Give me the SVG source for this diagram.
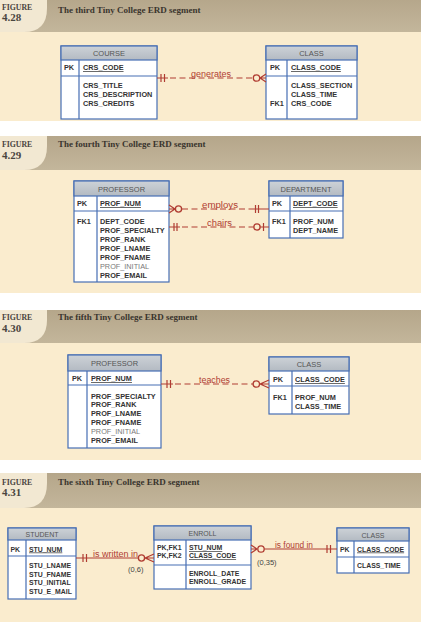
<svg xmlns="http://www.w3.org/2000/svg" width="421" height="622" viewBox="0 0 421 622">
<defs>
<linearGradient id="band" x1="0" y1="0" x2="0" y2="1">
<stop offset="0" stop-color="#b5a68a"/>
<stop offset="1" stop-color="#c3b69b"/>
</linearGradient>
<linearGradient id="eh" x1="0" y1="0" x2="0" y2="1">
<stop offset="0" stop-color="#cdd2d7"/>
<stop offset="1" stop-color="#b3bac2"/>
</linearGradient>
</defs>
<style>
.body{fill:#faecce}
.pan{fill:#f2e8d2}
.fig{font-family:"Liberation Serif",serif;font-size:7.8px;fill:#4a4540;font-weight:bold}
.num{font-family:"Liberation Serif",serif;font-size:11px;fill:#4a4540;font-weight:bold}
.title{font-family:"Liberation Serif",serif;font-size:9px;font-weight:bold;fill:#3a352e}
.box{fill:#ffffff;stroke:#466eb4;stroke-width:1.2}
.hd{fill:url(#eh);stroke:#466eb4;stroke-width:1.2}
.sep{stroke:#466eb4;stroke-width:1.2;fill:none}
.et{font-family:"Liberation Sans",Arial,sans-serif;font-size:7.5px;fill:#555;text-anchor:middle}
.at{font-family:"Liberation Sans",Arial,sans-serif;font-size:7.3px;font-weight:bold;fill:#333}
.s4 .at{font-size:6.9px}
.s4 .et{font-size:7px}
.ul{text-decoration:underline}
.gr{font-weight:normal;fill:#7a7a7a}
.cn{stroke:#b03c32;stroke-width:1.2;fill:none}
.dash{stroke-dasharray:6 3.5}
.circ{stroke:#b03c32;stroke-width:1.3;fill:#faecce}
.lbl{font-family:"Liberation Sans",Arial,sans-serif;font-size:8.5px;fill:#b03c32}
.card{font-family:"Liberation Sans",Arial,sans-serif;font-size:7.5px;fill:#444}
</style>
<rect width="421" height="622" fill="#ffffff"/>

<!-- Section 1 -->
<rect class="body" x="0" y="32" width="421" height="89"/>
<rect x="0" y="-2" width="421" height="34" fill="url(#band)"/>
<path class="pan" d="M0,-2 H47 V8 Q47,32 24,32 H0 Z"/>
<text class="fig" x="2" y="10">FIGURE</text>
<text class="num" x="2" y="21">4.28</text>
<text class="title" x="58" y="13">The third Tiny College ERD segment</text>

<!-- Section 2 -->
<rect class="body" x="0" y="170" width="421" height="123"/>
<rect x="0" y="136" width="421" height="34" fill="url(#band)"/>
<path class="pan" d="M0,136 H47 V146 Q47,170 24,170 H0 Z"/>
<text class="fig" x="2" y="147">FIGURE</text>
<text class="num" x="2" y="158.5">4.29</text>
<text class="title" x="58" y="147">The fourth Tiny College ERD segment</text>

<!-- Section 3 -->
<rect class="body" x="0" y="343" width="421" height="117"/>
<rect x="0" y="310" width="421" height="33" fill="url(#band)"/>
<path class="pan" d="M0,310 H47 V320 Q47,343 24,343 H0 Z"/>
<text class="fig" x="2" y="320">FIGURE</text>
<text class="num" x="2" y="331.5">4.30</text>
<text class="title" x="58" y="320">The fifth Tiny College ERD segment</text>

<!-- Section 4 -->
<rect class="body" x="0" y="508" width="421" height="114"/>
<rect x="0" y="473" width="421" height="35" fill="url(#band)"/>
<path class="pan" d="M0,473 H47 V483 Q47,508 24,508 H0 Z"/>
<text class="fig" x="2" y="485">FIGURE</text>
<text class="num" x="2" y="496">4.31</text>
<text class="title" x="58" y="485">The sixth Tiny College ERD segment</text>

<!-- Nodes -->
<g id="course">
<rect class="box" x="61" y="46" width="96" height="73"/>
<rect class="hd" x="61" y="46" width="96" height="14"/>
<path class="sep" d="M61,76 H157 M79,60 V119"/>
<text class="et" x="109" y="55.5">COURSE</text>
<text class="at" x="64" y="70">PK</text>
<text class="at ul" x="83" y="70">CRS_CODE</text>
<text class="at" x="83" y="88">CRS_TITLE</text>
<text class="at" x="83" y="97">CRS_DESCRIPTION</text>
<text class="at" x="83" y="106">CRS_CREDITS</text>
</g>

<g id="class1">
<rect class="box" x="266" y="46" width="91" height="73"/>
<rect class="hd" x="266" y="46" width="91" height="14"/>
<path class="sep" d="M266,76 H357 M287,60 V119"/>
<text class="et" x="311.5" y="55.5">CLASS</text>
<text class="at" x="270" y="70">PK</text>
<text class="at ul" x="291" y="70">CLASS_CODE</text>
<text class="at" x="291" y="88">CLASS_SECTION</text>
<text class="at" x="291" y="97">CLASS_TIME</text>
<text class="at" x="270" y="106">FK1</text>
<text class="at" x="291" y="106">CRS_CODE</text>
</g>

<g id="professor2">
<rect class="box" x="74" y="181" width="95" height="101"/>
<rect class="hd" x="74" y="181" width="95" height="15"/>
<path class="sep" d="M74,211 H169 M97,196 V282"/>
<text class="et" x="121.5" y="191.5">PROFESSOR</text>
<text class="at" x="77" y="206">PK</text>
<text class="at ul" x="100" y="206">PROF_NUM</text>
<text class="at" x="77" y="223.5">FK1</text>
<text class="at" x="100" y="223.5">DEPT_CODE</text>
<text class="at" x="100" y="232.5">PROF_SPECIALTY</text>
<text class="at" x="100" y="241.5">PROF_RANK</text>
<text class="at" x="100" y="250.5">PROF_LNAME</text>
<text class="at" x="100" y="259.5">PROF_FNAME</text>
<text class="at gr" x="100" y="268.5">PROF_INITIAL</text>
<text class="at" x="100" y="277.5">PROF_EMAIL</text>
</g>

<g id="department">
<rect class="box" x="269" y="181" width="74" height="57"/>
<rect class="hd" x="269" y="181" width="74" height="15"/>
<path class="sep" d="M269,211 H343 M290,196 V238"/>
<text class="et" x="306" y="191.5">DEPARTMENT</text>
<text class="at" x="272" y="206">PK</text>
<text class="at ul" x="293" y="206">DEPT_CODE</text>
<text class="at" x="272" y="223.5">FK1</text>
<text class="at" x="293" y="223.5">PROF_NUM</text>
<text class="at" x="293" y="232.5">DEPT_NAME</text>
</g>

<g id="professor3">
<rect class="box" x="68" y="355" width="93" height="93"/>
<rect class="hd" x="68" y="355" width="93" height="16"/>
<path class="sep" d="M68,385 H161 M87,371 V448"/>
<text class="et" x="114.5" y="365.5">PROFESSOR</text>
<text class="at" x="72" y="381">PK</text>
<text class="at ul" x="91" y="381">PROF_NUM</text>
<text class="at" x="91" y="398.5">PROF_SPECIALTY</text>
<text class="at" x="91" y="407.4">PROF_RANK</text>
<text class="at" x="91" y="416.3">PROF_LNAME</text>
<text class="at" x="91" y="425.2">PROF_FNAME</text>
<text class="at gr" x="91" y="434.1">PROF_INITIAL</text>
<text class="at" x="91" y="443">PROF_EMAIL</text>
</g>

<g id="class3">
<rect class="box" x="269" y="357" width="80" height="57"/>
<rect class="hd" x="269" y="357" width="80" height="14"/>
<path class="sep" d="M269,386 H349 M292,371 V414"/>
<text class="et" x="309" y="367">CLASS</text>
<text class="at" x="273" y="382">PK</text>
<text class="at ul" x="295" y="382">CLASS_CODE</text>
<text class="at" x="273" y="399.5">FK1</text>
<text class="at" x="295" y="399.5">PROF_NUM</text>
<text class="at" x="295" y="408.5">CLASS_TIME</text>
</g>

<g class="s4">
<g id="student">
<rect class="box" x="8" y="528" width="68" height="71"/>
<rect class="hd" x="8" y="528" width="68" height="12"/>
<path class="sep" d="M8,556 H76 M26,540 V599"/>
<text class="et" x="42" y="537">STUDENT</text>
<text class="at" x="10.5" y="551.5">PK</text>
<text class="at ul" x="29" y="551.5">STU_NUM</text>
<text class="at" x="29" y="568">STU_LNAME</text>
<text class="at" x="29" y="576.5">STU_FNAME</text>
<text class="at" x="29" y="585">STU_INITIAL</text>
<text class="at" x="29" y="593.5">STU_E_MAIL</text>
</g>

<g id="enroll">
<rect class="box" x="154" y="526" width="97" height="63"/>
<rect class="hd" x="154" y="526" width="97" height="14"/>
<path class="sep" d="M154,565 H251 M186,540 V589"/>
<text class="et" x="202.5" y="536">ENROLL</text>
<text class="at" x="157" y="550">PK,FK1</text>
<text class="at ul" x="189" y="550">STU_NUM</text>
<text class="at" x="157" y="558">PK,FK2</text>
<text class="at ul" x="189" y="558">CLASS_CODE</text>
<text class="at" x="189" y="576">ENROLL_DATE</text>
<text class="at" x="189" y="584">ENROLL_GRADE</text>
</g>

<g id="class4">
<rect class="box" x="337" y="528" width="72" height="45"/>
<rect class="hd" x="337" y="528" width="72" height="13"/>
<path class="sep" d="M337,557 H409 M354,541 V573"/>
<text class="et" x="373" y="537.5">CLASS</text>
<text class="at" x="340" y="551.5">PK</text>
<text class="at ul" x="357" y="551.5">CLASS_CODE</text>
<text class="at" x="357" y="568">CLASS_TIME</text>
</g>
</g>

<!-- Connectors -->
<g id="connectors">
<!-- generates -->
<path class="cn" d="M157,78 H168 M161,74 V82 M164.5,74 V82"/>
<path class="cn dash" d="M170,78 H253"/>
<circle class="circ" cx="256.5" cy="78" r="3.2"/>
<path class="cn" d="M259.7,78 H266 M260,78 L266,74 M260,78 L266,82"/>
<text class="lbl" x="191" y="77" textLength="40" lengthAdjust="spacingAndGlyphs">generates</text>

<!-- employs -->
<path class="cn" d="M169,209 H175.5 M175,209 L169,205 M175,209 L169,213"/>
<circle class="circ" cx="178.5" cy="209" r="3.1"/>
<path class="cn dash" d="M182,209 H252"/>
<path class="cn" d="M252,209 H269 M255.5,205 V213 M258.5,205 V213"/>
<text class="lbl" x="202" y="208" textLength="36" lengthAdjust="spacingAndGlyphs">employs</text>

<!-- chairs -->
<path class="cn" d="M169,227 H180 M174,223 V231 M177,223 V231"/>
<path class="cn dash" d="M182,227 H254"/>
<circle class="circ" cx="257" cy="227" r="3.1"/>
<path class="cn" d="M260,227 H269 M263.5,223 V231"/>
<text class="lbl" x="207" y="226" textLength="25" lengthAdjust="spacingAndGlyphs">chairs</text>

<!-- teaches -->
<path class="cn" d="M161,384 H173 M167,380 V388 M170.5,380 V388"/>
<path class="cn dash" d="M175,384 H253"/>
<circle class="circ" cx="256.3" cy="384" r="3.2"/>
<path class="cn" d="M259.5,384 H269 M260,384 L269,380 M260,384 L269,388"/>
<text class="lbl" x="199" y="383" textLength="31" lengthAdjust="spacingAndGlyphs">teaches</text>

<!-- is written in -->
<path class="cn" d="M76,558 H138.5 M83,554 V562 M86.5,554 V562"/>
<circle class="circ" cx="141.5" cy="558" r="3.1"/>
<path class="cn" d="M144.6,558 H154 M145,558 L154,554 M145,558 L154,562"/>
<text class="lbl" x="93" y="557" textLength="45" lengthAdjust="spacingAndGlyphs">is written in</text>
<text class="card" x="128" y="572">(0,6)</text>

<!-- is found in -->
<path class="cn" d="M251,549 H257.5 M257,549 L251,545 M257,549 L251,553"/>
<circle class="circ" cx="261" cy="549" r="3.2"/>
<path class="cn" d="M264.2,549 H337 M327,545 V553 M330.5,545 V553"/>
<text class="lbl" x="275" y="548" textLength="38" lengthAdjust="spacingAndGlyphs">is found in</text>
<text class="card" x="257" y="565">(0,35)</text>
</g>
</svg>
